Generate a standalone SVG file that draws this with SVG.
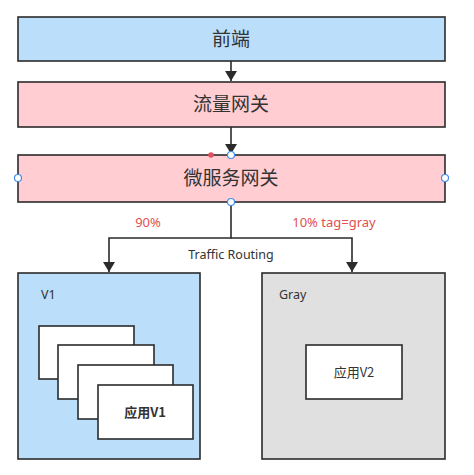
<svg xmlns="http://www.w3.org/2000/svg" width="474" height="475" viewBox="0 0 474 475">
<defs>
<style>
.box{stroke:#2b2b2b;stroke-width:1.6}
.blue{fill:#bbdefb}
.pink{fill:#ffcdd2}
.gray{fill:#e0e0e0}
.white{fill:#ffffff}
.t{font-family:"Noto Sans CJK SC","Noto Sans",sans-serif;fill:#333333;text-anchor:middle}
.big{font-size:19px}
.small{font-family:"Noto Sans","Noto Sans CJK SC",sans-serif;font-size:12.5px;fill:#333333}
.red{font-family:"Noto Sans","Noto Sans CJK SC",sans-serif;font-size:13px;fill:#e05050;text-anchor:middle}
.line{fill:none;stroke:#2b2b2b;stroke-width:1.6}
.handle{fill:#ffffff;stroke:#3d8ef0;stroke-width:1.2}
</style>
<marker id="arr" viewBox="0 0 10 12" refX="10" refY="6" markerWidth="10" markerHeight="12" markerUnits="userSpaceOnUse" orient="auto">
<path d="M0,0 L10,6 L0,12 Z" fill="#2b2b2b"/>
</marker>
</defs>
<rect width="474" height="475" fill="#ffffff"/>

<g id="connectors">
<path class="line" d="M231,61 V81" marker-end="url(#arr)"/>
<path class="line" d="M231,127 V154" marker-end="url(#arr)"/>
<path class="line" d="M231,202 V238 H109 V272" marker-end="url(#arr)"/>
<path class="line" d="M231,238 H352 V272" marker-end="url(#arr)"/>
<text class="red" x="148" y="227">90%</text>
<text class="red" x="334" y="227">10% tag=gray</text>
<text class="small" x="231" y="259" text-anchor="middle">Traffic Routing</text>
</g>

<g id="frontend">
<rect class="box blue" x="18" y="17" width="427" height="44"/>
<text class="t big" x="231" y="46">前端</text>
</g>

<g id="traffic-gateway">
<rect class="box pink" x="18" y="82" width="427" height="45"/>
<text class="t big" x="231" y="111">流量网关</text>
</g>

<g id="micro-gateway">
<rect class="box pink" x="18" y="155" width="427" height="47"/>
<text class="t big" x="231" y="185">微服务网关</text>
<circle cx="211" cy="155" r="2.8" fill="#e05060"/>
<circle class="handle" cx="231" cy="155" r="3.5"/>
<circle class="handle" cx="18" cy="178" r="3.5"/>
<circle class="handle" cx="445" cy="178" r="3.5"/>
<circle class="handle" cx="231" cy="202" r="3.5"/>
</g>

<g id="v1">
<rect class="box blue" x="18" y="273" width="182" height="186"/>
<text class="small" x="41" y="299">V1</text>
<rect class="box white" x="39" y="326" width="95" height="53"/>
<rect class="box white" x="58" y="345" width="96" height="54"/>
<rect class="box white" x="78" y="365" width="95" height="54"/>
<rect class="box white" x="98" y="385" width="95" height="54"/>
<text class="t" x="145" y="417" font-size="13" font-weight="bold">应用V1</text>
</g>

<g id="gray">
<rect class="box gray" x="262" y="273" width="183" height="186"/>
<text class="small" x="279" y="299">Gray</text>
<rect class="box white" x="306" y="345" width="96" height="54"/>
<text class="t" x="354" y="377" font-size="13">应用V2</text>
</g>
</svg>
